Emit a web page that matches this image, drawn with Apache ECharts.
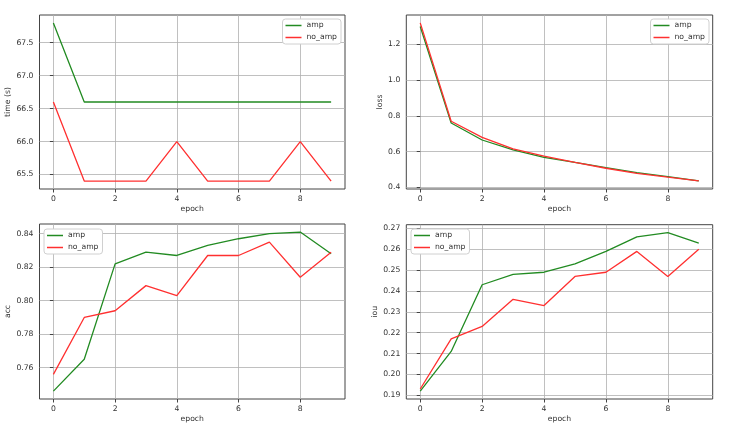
<!DOCTYPE html>
<html>
<head>
<meta charset="utf-8">
<style>
  html, body { margin: 0; padding: 0; background: #fff; }
  #chart { width: 730px; height: 437px; }
</style>
<script src="https://cdn.jsdelivr.net/npm/echarts@6/dist/echarts.min.js"></script>
</head>
<body>
<div id="chart"></div>
<script>
// amp / no_amp 训练对比

var epochs = [0, 1, 2, 3, 4, 5, 6, 7, 8, 9];
var epochTicks = [0, 2, 4, 6, 8];

var timeAmp   = [67.8, 66.6, 66.6, 66.6, 66.6, 66.6, 66.6, 66.6, 66.6, 66.6];
var timeNoAmp = [66.6, 65.4, 65.4, 65.4, 66.0, 65.4, 65.4, 65.4, 66.0, 65.4];
var timeTicks = [65.5, 66.0, 66.5, 67.0, 67.5];

var lossAmp   = [1.30, 0.760, 0.665, 0.610, 0.568, 0.540, 0.510, 0.482, 0.460, 0.437];
var lossNoAmp = [1.32, 0.770, 0.680, 0.615, 0.575, 0.540, 0.507, 0.478, 0.457, 0.437];
var lossTicks = [0.4, 0.6, 0.8, 1.0, 1.2];

var accAmp   = [0.746, 0.765, 0.822, 0.829, 0.827, 0.833, 0.837, 0.840, 0.841, 0.828];
var accNoAmp = [0.756, 0.790, 0.794, 0.809, 0.803, 0.827, 0.827, 0.835, 0.814, 0.829];
var accTicks = [0.76, 0.78, 0.80, 0.82, 0.84];

var iouAmp   = [0.192, 0.211, 0.243, 0.248, 0.249, 0.253, 0.259, 0.266, 0.268, 0.263];
var iouNoAmp = [0.193, 0.217, 0.223, 0.236, 0.233, 0.247, 0.249, 0.259, 0.247, 0.260];
var iouTicks = [0.19, 0.20, 0.21, 0.22, 0.23, 0.24, 0.25, 0.26, 0.27];

var GREEN = '#228b22';
var RED = '#ff3030';
var FONT = 'DejaVu Sans';
var FS = 7.7;

var myChart = echarts.init(document.getElementById('chart'));

// 四个子图的位置
var panels = [
  {grid: {left: 39.5, top: 15, width: 305.5, height: 174}, yName: 'time (s)', nameGap: 22,
   a: timeAmp, b: timeNoAmp, ticks: timeTicks, min: 65.28, max: 67.92, dec: 1,
   legend: {right: 389, top: 19}},
  {grid: {left: 406.3, top: 15, width: 306.4, height: 174}, yName: 'loss', nameGap: 17,
   a: lossAmp, b: lossNoAmp, ticks: lossTicks, min: 0.391, max: 1.364, dec: 1,
   legend: {right: 21, top: 19}},
  {grid: {left: 39.5, top: 224, width: 305.5, height: 175}, yName: 'acc', nameGap: 22,
   a: accAmp, b: accNoAmp, ticks: accTicks, min: 0.7413, max: 0.8458, dec: 2,
   legend: {left: 44, top: 229}},
  {grid: {left: 406.3, top: 224.7, width: 306.4, height: 174.3}, yName: 'iou', nameGap: 25,
   a: iouAmp, b: iouNoAmp, ticks: iouTicks, min: 0.1882, max: 0.2718, dec: 2,
   legend: {left: 411, top: 229}}
];

var grids = [], xAxes = [], yAxes = [], series = [], legends = [];

panels.forEach(function (p, i) {
  grids.push(Object.assign({
    show: true, borderColor: '#444', borderWidth: 1, backgroundColor: '#fff'
  }, p.grid));

  xAxes.push({
    type: 'value', gridIndex: i, min: -0.45, max: 9.45,
    name: 'epoch', nameLocation: 'middle', nameGap: 16,
    nameTextStyle: {fontFamily: FONT, fontSize: FS, color: '#333'},
    axisLine: {show: false},
    axisTick: {show: true, length: 3.5, lineStyle: {color: '#444'}, customValues: epochTicks},
    axisLabel: {fontFamily: FONT, fontSize: FS, color: '#333', margin: 6, customValues: epochTicks},
    splitLine: {show: true, lineStyle: {color: '#b0b0b0', width: 0.8}}
  });

  yAxes.push({
    type: 'value', gridIndex: i, min: p.min, max: p.max,
    name: p.yName, nameLocation: 'middle', nameGap: p.nameGap,
    nameTextStyle: {fontFamily: FONT, fontSize: FS, color: '#333'},
    axisLine: {show: false},
    axisTick: {show: true, length: 3.5, lineStyle: {color: '#444'}, customValues: p.ticks},
    axisLabel: {
      fontFamily: FONT, fontSize: FS, color: '#333', margin: 6, customValues: p.ticks,
      formatter: (function (d) { return function (v) { return v.toFixed(d); }; })(p.dec)
    },
    splitLine: {show: true, lineStyle: {color: '#b0b0b0', width: 0.8}}
  });

  series.push({
    name: 'amp', type: 'line', xAxisIndex: i, yAxisIndex: i,
    symbol: 'none', lineStyle: {color: GREEN, width: 1.3}, itemStyle: {color: GREEN},
    data: epochs.map(function (e, k) { return [e, p.a[k]]; })
  });
  series.push({
    name: 'no_amp', type: 'line', xAxisIndex: i, yAxisIndex: i,
    symbol: 'none', lineStyle: {color: RED, width: 1.3}, itemStyle: {color: RED},
    data: epochs.map(function (e, k) { return [e, p.b[k]]; })
  });

  legends.push(Object.assign({
    orient: 'vertical', data: ['amp', 'no_amp'],
    icon: 'rect', itemWidth: 16, itemHeight: 1.5, itemGap: 3,
    padding: [2, 4, 2, 3],
    backgroundColor: '#fff', borderColor: '#d0d0d0', borderWidth: 1, borderRadius: 3,
    textStyle: {fontFamily: FONT, fontSize: FS, color: '#333', lineHeight: 9},
    selectedMode: false
  }, p.legend));
});

var option = {
  animation: false,
  backgroundColor: '#fff',
  grid: grids,
  xAxis: xAxes,
  yAxis: yAxes,
  legend: legends,
  series: series
};

myChart.setOption(option);
</script>
</body>
</html>
